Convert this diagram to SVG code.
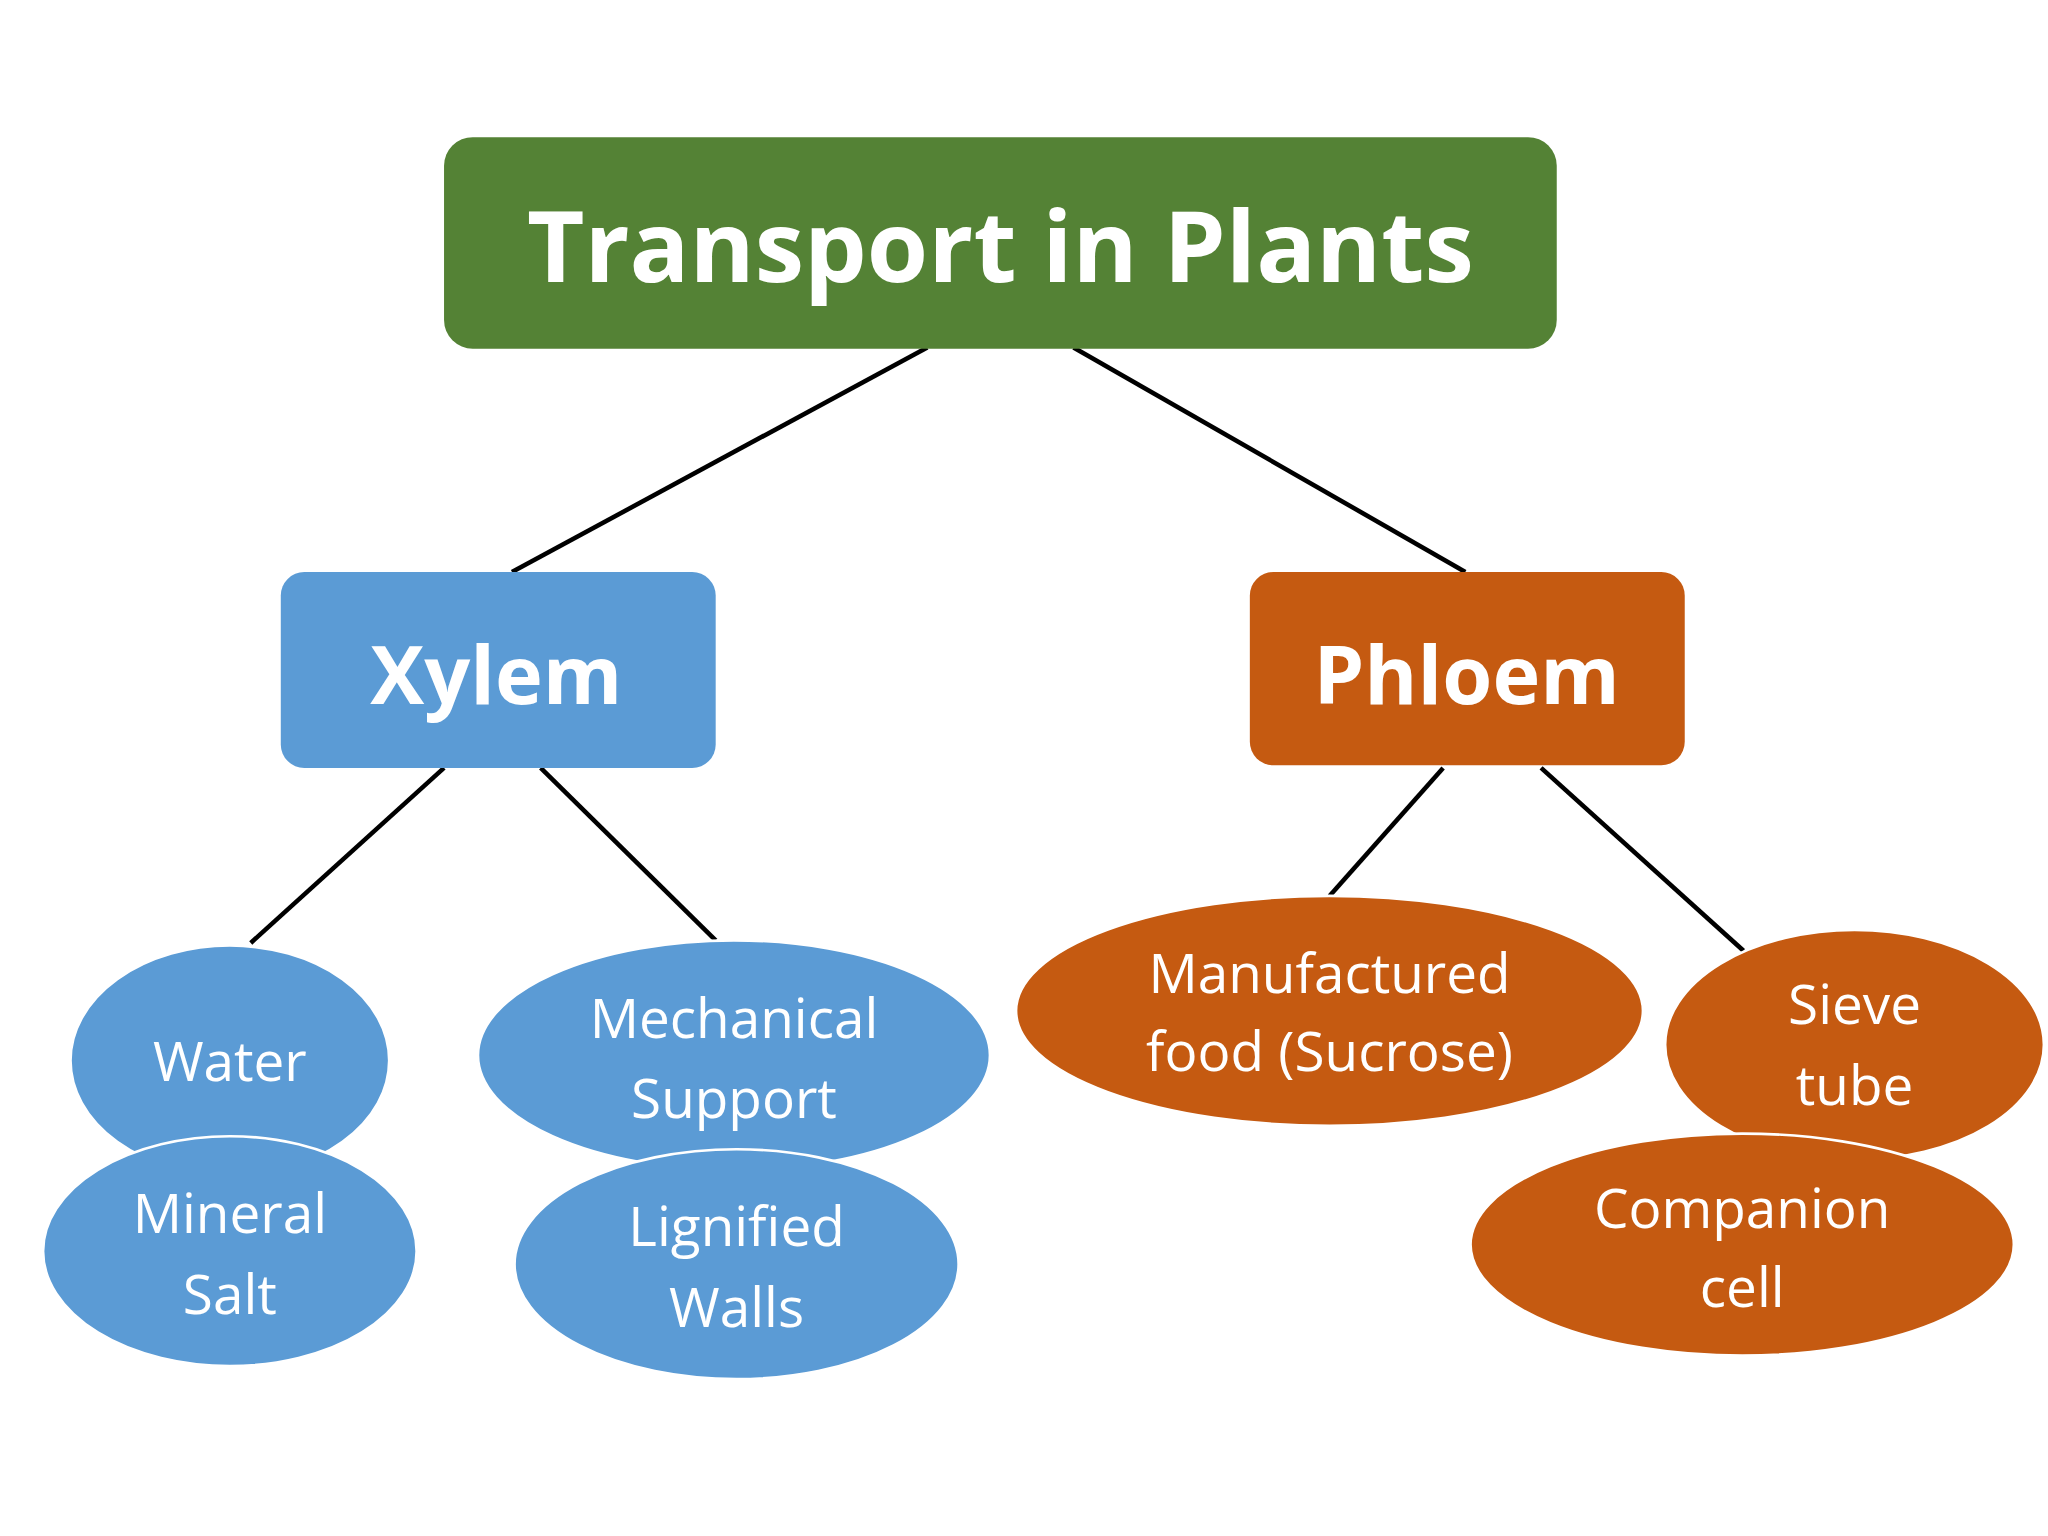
<svg xmlns="http://www.w3.org/2000/svg" width="2048" height="1536" viewBox="0 0 2048 1536">
<style>
.t{font-family:"Open Sans","Liberation Sans",sans-serif;fill:#fff;text-anchor:middle}
.b{font-weight:bold}
.blue{fill:#5b9bd5;stroke:#fff;stroke-width:2}
.org{fill:#c55a11;stroke:#fff;stroke-width:2}
.e{font-size:42px}
</style>
<rect width="2048" height="1536" fill="#fff"/>
<g transform="scale(1.306)">
<g id="connectors" stroke="#000" stroke-width="3.5" fill="none">
<line x1="710" y1="266" x2="392" y2="438"/>
<line x1="822" y1="266" x2="1122" y2="438"/>
<line x1="340" y1="588" x2="192" y2="722"/>
<line x1="414" y1="588" x2="548" y2="720"/>
<line x1="1105" y1="588" x2="1018" y2="686"/>
<line x1="1180" y1="588" x2="1335" y2="728"/>
</g>
<g id="root"><rect x="340" y="105" width="852" height="162" rx="22" fill="#548235"/>
<text class="t b" x="766" y="216" font-size="76">Transport in Plants</text></g>
<g id="xylem"><rect x="215" y="438" width="333" height="150" rx="18" fill="#5b9bd5"/>
<text class="t b" x="380" y="539" font-size="62">Xylem</text></g>
<g id="phloem"><rect x="957" y="438" width="333" height="148" rx="18" fill="#c55a11"/>
<text class="t b" x="1123" y="539" font-size="62">Phloem</text></g>
<g id="water"><ellipse class="blue" cx="176" cy="812" rx="122" ry="88"/>
<text class="t e" x="176" y="828">Water</text></g>
<g id="mineral"><ellipse class="blue" cx="176" cy="958" rx="143" ry="88"/>
<text class="t e" x="176" y="944">Mineral</text><text class="t e" x="176" y="1006">Salt</text></g>
<g id="mech"><ellipse class="blue" cx="562" cy="808" rx="196" ry="88"/>
<text class="t e" x="562" y="795">Mechanical</text><text class="t e" x="562" y="856">Support</text></g>
<g id="lign"><ellipse class="blue" cx="564" cy="968" rx="170" ry="88"/>
<text class="t e" x="564" y="954">Lignified</text><text class="t e" x="564" y="1016">Walls</text></g>
<g id="food"><ellipse class="org" cx="1018" cy="774" rx="240" ry="88"/>
<text class="t e" x="1018" y="760">Manufactured</text><text class="t e" x="1018" y="820">food (Sucrose)</text></g>
<g id="sieve"><ellipse class="org" cx="1420" cy="800" rx="145" ry="88"/>
<text class="t e" x="1420" y="784">Sieve</text><text class="t e" x="1420" y="846">tube</text></g>
<g id="companion"><ellipse class="org" cx="1334" cy="953" rx="208" ry="85"/>
<text class="t e" x="1334" y="940">Companion</text><text class="t e" x="1334" y="1001">cell</text></g>
</g>
</svg>
